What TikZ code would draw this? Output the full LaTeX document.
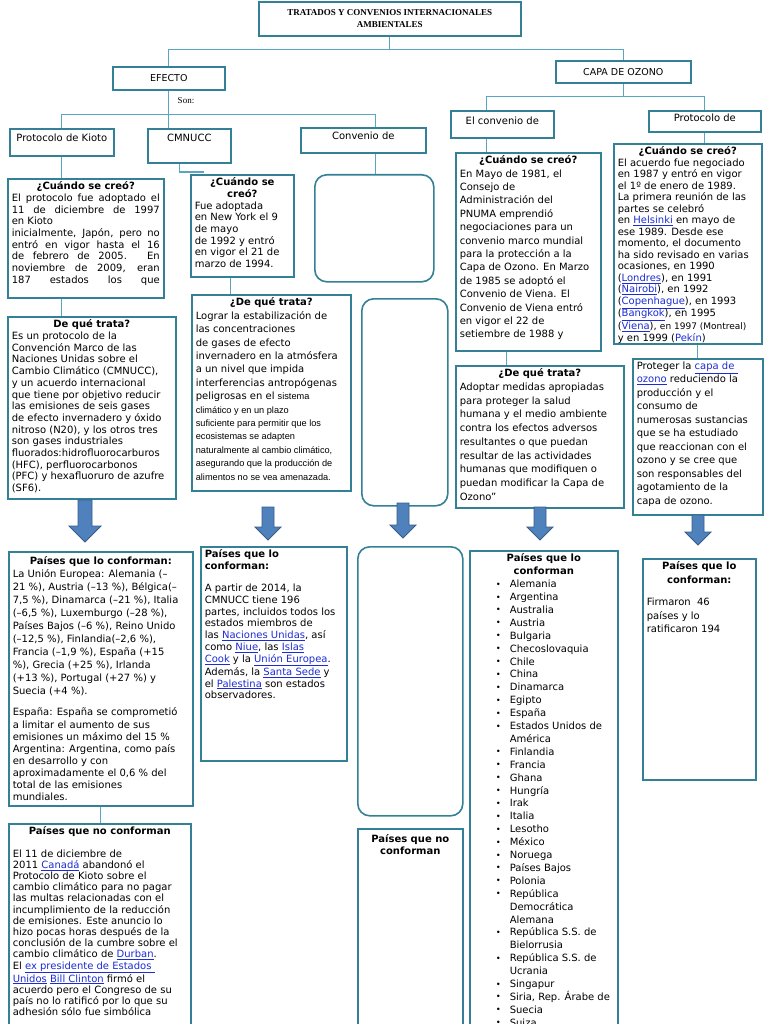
\documentclass[tikz,border=0pt]{standalone}
\usepackage{fontspec}
\setmainfont{DejaVu Sans}
\newfontfamily\serifa{Liberation Serif}
\newfontfamily\arial{Liberation Sans}

\definecolor{borde}{RGB}{52,128,150}
\definecolor{linea}{RGB}{88,166,192}
\definecolor{enlace}{RGB}{28,44,210}
\definecolor{flecha}{RGB}{79,129,189}
\definecolor{flechaborde}{RGB}{56,93,138}

\newcommand{\enl}[1]{\textcolor{enlace}{\underline{#1}}}
\newcommand{\caja}[4][11.7]{\parbox[c][#3pt][t]{#2pt}{\fontsize{10}{#1}\selectfont\raggedright #4}}
\newcommand{\titulo}[1]{{\centering\bfseries #1\par}}
\newcommand{\just}[1]{\makebox[\linewidth][s]{#1}\\}
\newcommand{\bala}{\raisebox{0.5pt}{\fontsize{8.5}{8}\selectfont\textbullet}}
\newcommand{\pais}[1]{\hspace*{22pt}\makebox[14pt][l]{\bala}#1\\}
\newcommand{\sigue}[1]{\hspace*{36pt}#1\\}
\newcommand{\chica}{\arial\fontsize{9.2}{13.4}\selectfont}

\tikzset{
  caja/.style={draw=borde,line width=1.6pt,fill=white,anchor=north west,inner xsep=4pt,inner ysep=3pt},
  redonda/.style={caja,rounded corners=12pt},
  conector/.style={draw=linea,line width=1.1pt},
  flechadeco/.style={draw=flechaborde,fill=flecha,line width=0.8pt},
  pics/flecha/.style n args={3}{code={
    \draw[flechadeco] (-#1/2,0) -- (#1/2,0) -- (#1/2,#3-#2*0.5) -- (#2/2,#3-#2*0.5)
      -- (0,#3) -- (-#2/2,#3-#2*0.5) -- (-#1/2,#3-#2*0.5) -- cycle;}}
}

\begin{document}
\begin{tikzpicture}[x=1pt,y=-1pt]
\useasboundingbox[fill=white] (0,0) rectangle (768,1024);

% titulo y ramas
\node[caja,minimum width=262,minimum height=34,align=center,
  font=\serifa\bfseries\fontsize{9}{12}\selectfont] (titulo) at (258,1)
  {TRATADOS Y CONVENIOS INTERNACIONALES\\AMBIENTALES};
\node[caja,minimum width=112,minimum height=23] (efecto) at (112,66) {\fontsize{9.5}{11}\selectfont EFECTO};
\node[caja,minimum width=135,minimum height=22] (capa) at (555,60) {\fontsize{9.5}{11}\selectfont CAPA DE OZONO};
\node[font=\serifa\fontsize{9}{10}\selectfont] (son) at (186,101) {Son:};

% tratados
\node[caja] (kioto) at (9,128) {\caja{96}{21}{\vspace*{2pt}\centering Protocolo de Kioto}};
\node[caja] (cmnucc) at (147,128) {\caja{75}{28}{\vspace*{2pt}\centering CMNUCC}};
\node[caja] (estocolmo) at (300,127) {\caja{117}{19}{\vspace*{1pt}\centering Convenio de}};
\node[caja] (viena) at (450,110) {\caja{95}{21}{\vspace*{3pt}\centering El convenio de}};
\node[caja] (montreal) at (648,110) {\caja{104}{15}{\centering Protocolo de}};

% cuando se creo
\node[caja] (kcuando) at (7,178) {\caja{148}{113}{\titulo{¿Cuándo se creó?}
\just{El protocolo fue adoptado el}
\just{11 de diciembre de 1997}
en Kioto\\
\just{inicialmente, Japón, pero no}
\just{entró en vigor hasta el 16}
\just{de febrero de 2005. En}
\just{noviembre de 2009, eran}
\just{187 estados los que}}};
\node[caja] (ccuando) at (190,174) {\caja{95}{96}{\titulo{¿Cuándo se\\creó?}
Fue adoptada\\
en New York el 9\\
de mayo\\
de 1992 y entró\\
en vigor el 21 de\\
marzo de 1994.}};
\node[redonda,minimum width=119,minimum height=107] (est1) at (314,174) {};
\node[caja] (vcuando) at (455,152) {\caja[13.4]{137}{192}{\titulo{¿Cuándo se creó?}
En Mayo de 1981, el\\
Consejo de\\
Administración del\\
PNUMA emprendió\\
negociaciones para un\\
convenio marco mundial\\
para la protección a la\\
Capa de Ozono. En Marzo\\
de 1985 se adoptó el\\
Convenio de Viena. El\\
Convenio de Viena entró\\
en vigor el 22 de\\
setiembre de 1988 y}};
\node[caja] (mcuando) at (613,143) {\caja[11.5]{140}{194}{\titulo{¿Cuándo se creó?}
El acuerdo fue negociado\\
en 1987 y entró en vigor\\
el 1º de enero de 1989.\\
La primera reunión de las\\
partes se celebró\\
en \enl{Helsinki} en mayo de\\
ese 1989. Desde ese\\
momento, el documento\\
ha sido revisado en varias\\
ocasiones, en 1990\\
(\enl{Londres}), en 1991\\
(\enl{Nairobi}), en 1992\\
(\enl{Copenhague}), en 1993\\
(\enl{Bangkok}), en 1995\\
(\enl{Viena}), {\fontsize{9}{11.5}\selectfont en 1997 (Montreal)}\\
y en 1999 (\textcolor{enlace}{Pekín})}};

% de que trata
\node[caja] (kque) at (7,316) {\caja{160}{176}{\titulo{De qué trata?}
Es un protocolo de la\\
Convención Marco de las\\
Naciones Unidas sobre el\\
Cambio Climático (CMNUCC),\\
y un acuerdo internacional\\
que tiene por objetivo reducir\\
las emisiones de seis gases\\
de efecto invernadero y óxido\\
nitroso (N20), y los otros tres\\
son gases industriales\\
fluorados:hidrofluorocarburos\\
(HFC), perfluorocarbonos\\
(PFC) y hexafluoruro de azufre\\
(SF6).}};
\node[caja] (cque) at (191,294) {\caja[13.4]{151}{190}{\titulo{¿De qué trata?}
Lograr la estabilización de\\
las concentraciones\\
de gases de efecto\\
invernadero en la atmósfera\\
a un nivel que impida\\
interferencias antropógenas\\
peligrosas en el {\chica sistema}\\
{\chica climático y en un plazo\\
suficiente para permitir que los\\
ecosistemas se adapten\\
naturalmente al cambio climático,\\
asegurando que la producción de\\
alimentos no se vea amenazada.\par}}};
\node[redonda,minimum width=86,minimum height=207] (est2) at (361,298) {};
\node[caja] (vque) at (455,365) {\caja[13.7]{160}{136}{\titulo{¿De qué trata?}
Adoptar medidas apropiadas\\
para proteger la salud\\
humana y el medio ambiente\\
contra los efectos adversos\\
resultantes o que puedan\\
resultar de las actividades\\
humanas que modifiquen o\\
puedan modificar la Capa de\\
Ozono"}};
\node[caja] (mque) at (632,358) {\caja[13.5]{122}{150}{Proteger la \enl{capa de }\\
\enl{ozono} reduciendo la\\
producción y el\\
consumo de\\
numerosas sustancias\\
que se ha estudiado\\
que reaccionan con el\\
ozono y se cree que\\
son responsables del\\
agotamiento de la\\
capa de ozono.}};

% flechas
\pic at (85,500) {flecha={14}{32}{42}};
\pic at (268,507) {flecha={12}{26}{33}};
\pic at (403,503) {flecha={12}{26}{35}};
\pic at (540,507) {flecha={12}{26}{33}};
\pic at (698,515) {flecha={12}{26}{30}};

% paises
\node[caja] (kpaises) at (8,551) {\caja[13.0]{176}{248}{\vspace*{2pt}\titulo{Países que lo conforman:}
La Unión Europea: Alemania (–\\
21 \%), Austria (–13 \%), Bélgica(–\\
7,5 \%), Dinamarca (–21 \%), Italia\\
(–6,5 \%), Luxemburgo (–28 \%),\\
Países Bajos (–6 \%), Reino Unido\\
(–12,5 \%), Finlandia(–2,6 \%),\\
Francia (–1,9 \%), España (+15\\
\%), Grecia (+25 \%), Irlanda\\
(+13 \%), Portugal (+27 \%) y\\
Suecia (+4 \%).\par
\vspace{9pt}\fontsize{10}{12.1}\selectfont
España: España se comprometió\\
a limitar el aumento de sus\\
emisiones un máximo del 15 \%\\
Argentina: Argentina, como país\\
en desarrollo y con\\
aproximadamente el 0,6 \% del\\
total de las emisiones\\
mundiales.}};
\node[caja] (cpaises) at (200,546) {\caja[11.8]{138}{208}{{\bfseries Países que lo\\conforman:\par}
\vspace{10pt}
A partir de 2014, la\\
CMNUCC tiene 196\\
partes, incluidos todos los\\
estados miembros de\\
las \enl{Naciones Unidas}, así\\
como \enl{Niue}, las \enl{Islas}\\
\enl{Cook} y la \enl{Unión Europea}.\\
Además, la \enl{Santa Sede} y\\
el \enl{Palestina} son estados\\
observadores.}};
\node[redonda,minimum width=105,minimum height=269] (est3) at (357,546) {};
\node[caja] (vpaises) at (469,550) {\caja[12.9]{140}{480}{\titulo{Países que lo\\conforman}
\pais{Alemania}
\pais{Argentina}
\pais{Australia}
\pais{Austria}
\pais{Bulgaria}
\pais{Checoslovaquia}
\pais{Chile}
\pais{China}
\pais{Dinamarca}
\pais{Egipto}
\pais{España}
\pais{Estados Unidos de}
\sigue{América}
\pais{Finlandia}
\pais{Francia}
\pais{Ghana}
\pais{Hungría}
\pais{Irak}
\pais{Italia}
\pais{Lesotho}
\pais{México}
\pais{Noruega}
\pais{Países Bajos}
\pais{Polonia}
\pais{República}
\sigue{Democrática}
\sigue{Alemana}
\pais{República S.S. de}
\sigue{Bielorrusia}
\pais{República S.S. de}
\sigue{Ucrania}
\pais{Singapur}
\pais{Siria, Rep. Árabe de}
\pais{Suecia}
\pais{Suiza}}};
\node[caja] (mpaises) at (642,558) {\caja[13.5]{105}{215}{\titulo{Países que lo\\conforman:}
\vspace{9pt}
Firmaron\ \ 46\\
países y lo\\
ratificaron 194}};

% paises que no conforman
\node[caja] (kno) at (8,823) {\caja[11.2]{174}{210}{\titulo{Países que no conforman}
\vspace{11pt}
El 11 de diciembre de\\
2011 \enl{Canadá} abandonó el\\
Protocolo de Kioto sobre el\\
cambio climático para no pagar\\
las multas relacionadas con el\\
incumplimiento de la reducción\\
de emisiones. Este anuncio lo\\
hizo pocas horas después de la\\
conclusión de la cumbre sobre el\\
cambio climático de \enl{Durban}.\\
El \enl{ex presidente de Estados }\\
\enl{Unidos} \enl{Bill Clinton} firmó el\\
acuerdo pero el Congreso de su\\
país no lo ratificó por lo que su\\
adhesión sólo fue simbólica}};
\node[caja] (estno) at (357,828) {\caja[12]{97}{205}{\vspace*{3pt}\titulo{Países que no\\conforman}}};

% conectores
\path (titulo.south) ++(0,13) coordinate (ramal1);
\path (efecto.south) ++(0,24) coordinate (ramal2);
\path (capa.south) ++(0,13) coordinate (ramal3);
\draw[conector] (titulo.south) -- (ramal1) -| (efecto.north);
\draw[conector] (ramal1) -| (capa.north);
\draw[conector] (efecto.south) -- (efecto.south |- cmnucc.north);
\draw[conector] (kioto.north) |- (ramal2) -| ([xshift=12pt]estocolmo.north);
\draw[conector] (capa.south) -- (ramal3);
\draw[conector] ([xshift=-16pt]viena.north) |- (ramal3) -| (montreal.north);
\draw[conector] (kioto.south) -- (kioto.south |- kcuando.north);
\draw[conector] (kioto.south |- kcuando.south) -- (kioto.south |- kque.north);
\draw[conector] ([xshift=-10pt]cmnucc.south) |- ([xshift=-38pt,yshift=2pt]ccuando.north);
\draw[conector] ([xshift=-12pt]ccuando.south) -- ([xshift=-12pt]ccuando.south |- cque.north);
\draw[conector] ([xshift=12pt]estocolmo.south) -- ([xshift=12pt]estocolmo.south |- est1.north);
\draw[conector] ([xshift=-16pt]viena.south) -- ([xshift=-16pt]viena.south |- vcuando.north);
\draw[conector] ([xshift=-22pt]vcuando.south) -- ([xshift=-22pt]vcuando.south |- vque.north);
\draw[conector] (montreal.south) -- (montreal.south |- mcuando.north);
\draw[conector] (mque.north |- mcuando.south) -- (mque.north);
\draw[conector] (kpaises.south) -- (kpaises.south |- kno.north);
\end{tikzpicture}
\end{document}
